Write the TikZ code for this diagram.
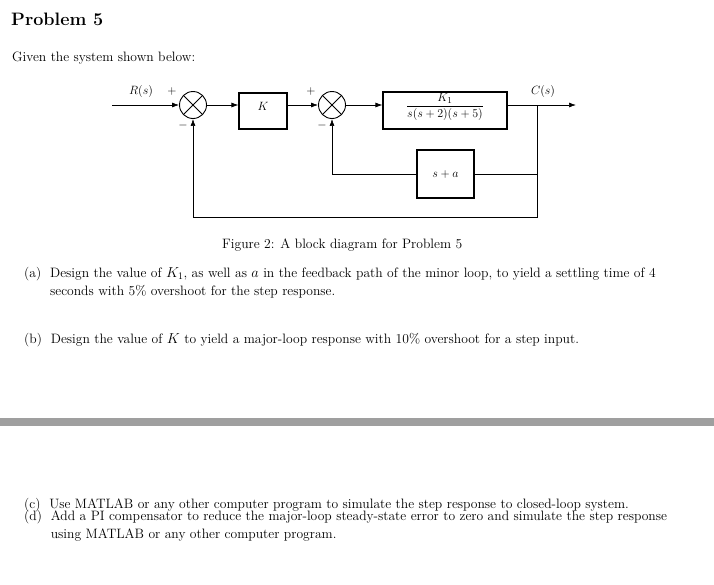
\documentclass[tikz,border=0pt]{standalone}
\usetikzlibrary{arrows.meta}
\begin{document}
\begin{tikzpicture}[x=1pt,y=-1pt,
  blk/.style={draw,line width=1.2pt,minimum width=#1,minimum height=36pt,inner sep=0pt},
  sumj/.style={draw,circle,line width=0.9pt,minimum size=27pt,inner sep=0pt,path picture={\draw[line width=0.9pt] (path picture bounding box.south west)--(path picture bounding box.north east) (path picture bounding box.north west)--(path picture bounding box.south east);}},
  sig/.style={line width=0.7pt,-{Latex[length=7pt,width=5pt]}},
  ln/.style={line width=0.7pt},
  txt/.style={anchor=base west,inner sep=0pt,font=\fontsize{13.6pt}{18pt}\selectfont},
  lab/.style={inner sep=0pt,font=\fontsize{13pt}{14pt}\selectfont}]
\useasboundingbox (0,0) rectangle (714,584);
\node[anchor=base west,inner sep=0pt,font=\fontsize{18pt}{20pt}\selectfont\bfseries] (title) at (11,25) {Problem 5};
\node[txt] (given) at (12,61) {Given the system shown below:};
% diagram
\coordinate (in) at (112,105);
\node[sumj] (s1) at (193,105) {};
\node[blk=48pt] (k) at (263,111) {};
\node[lab] (kl) at (263,106) {$K$};
\node[sumj] (s2) at (332,105) {};
\node[blk=124pt,minimum height=37pt] (g) at (445,110.5) {};
\node[lab] (gl) at (445,107) {$\displaystyle\frac{K_1}{s(s+2)(s+5)}$};
\node[blk=57pt,minimum height=48pt] (h) at (445.5,174) {};
\node[lab] (hl) at (445.5,174) {$s+a$};
\coordinate (br) at (537,105);
\coordinate (out) at (576,105);
\coordinate (bot) at (537,217);
\coordinate (botl) at (193,217);
\coordinate (mr) at (537,174);
\coordinate (ml) at (332,174);
\draw[sig] (in) -- (s1);
\draw[sig] (s1) -- (k.west|-s1);
\draw[sig] (k.east|-s2) -- (s2);
\draw[sig] (s2) -- (g.west|-s2);
\draw[sig] (g.east|-br) -- (out);
\draw[ln] (br) -- (bot) -- (botl);
\draw[sig] (botl) -- (s1);
\draw[ln] (mr) -- (h.east);
\draw[ln] (h.west) -- (ml);
\draw[sig] (ml) -- (s2);
\node[lab] (rs) at (141,91) {$R(s)$};
\node[lab] (cs) at (543,91) {$C(s)$};
\node[lab] (p1) at (172,91) {$+$};
\node[lab] (m1) at (183,125) {$-$};
\node[lab] (p2) at (311,91) {$+$};
\node[lab] (m2) at (322,125) {$-$};
\node[txt] (cap) at (222,248) {Figure 2: A block diagram for Problem 5};
\node[txt,align=left] (a) at (24,295) {(a)\ \ Design the value of $K_1$, as well as $a$ in the feedback path of the minor loop, to yield a settling time of 4\\\hphantom{(a)\ \ }seconds with 5\% overshoot for the step response.};
\node[txt] (b) at (24,343) {(b)\ \ Design the value of $K$ to yield a major-loop response with 10\% overshoot for a step input.};
\fill[gray!75] (0,418) rectangle (714,426);
\node[txt] (c) at (24,508) {(c)\ \ Use MATLAB or any other computer program to simulate the step response to closed-loop system.};
\node[txt,align=left] (d) at (24,538) {(d)\ \ Add a PI compensator to reduce the major-loop steady-state error to zero and simulate the step response\\\hphantom{(d)\ \ }using MATLAB or any other computer program.};
\end{tikzpicture}
\end{document}
